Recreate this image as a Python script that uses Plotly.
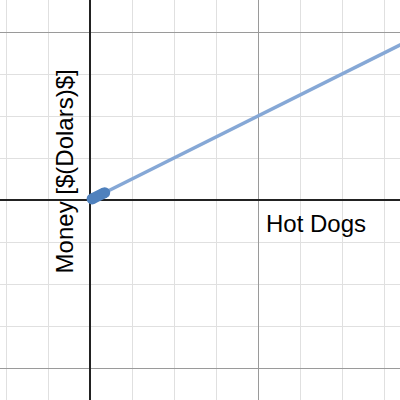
import plotly.graph_objects as go

# line y = 0.5x, plus the short thick segment at origin
line_x = [0, 7.6]
line_y = [0, 3.8]
seg_x = [0.05, 0.35]
seg_y = [0.025, 0.175]

fig = go.Figure()
fig.add_trace(go.Scatter(x=line_x, y=line_y, mode="lines",
                         line=dict(color="#86a8d6", width=3.5)))
fig.add_trace(go.Scatter(x=seg_x, y=seg_y, mode="lines+markers",
                         line=dict(color="#4f81bd", width=11),
                         marker=dict(color="#4f81bd", size=11)))

axis = dict(showticklabels=False, ticks="", dtick=4, tick0=0,
            gridcolor="#9a9a9a", gridwidth=1,
            zeroline=True, zerolinecolor="#222222", zerolinewidth=1.5,
            minor=dict(dtick=1, tick0=0, showgrid=True, gridcolor="#e0e0e0", gridwidth=1),
            fixedrange=True)

fig.update_layout(
    width=400, height=400, margin=dict(l=0, r=0, t=0, b=0),
    plot_bgcolor="white", paper_bgcolor="white", showlegend=False,
    xaxis=dict(range=[-90/42, 310/42], **axis),
    yaxis=dict(range=[-200/42, 200/42], **axis),
    font=dict(family="Liberation Sans, Arial", color="black"),
)
fig.add_annotation(x=278/42, y=-0.55, text="Hot Dogs", showarrow=False,
                   xanchor="right", yanchor="middle", font=dict(size=24))
fig.add_annotation(x=-0.6, y=-1.8, text="Money [$(Dolars)$]", showarrow=False,
                   textangle=-90, xanchor="center", yanchor="bottom", font=dict(size=24))
fig.write_html("out.html", config={"displayModeBar": False})

# remove default page margin so the chart fills the window
with open("out.html") as f:
    html = f.read()
html = html.replace("<body>", '<body style="margin:0">', 1)
with open("out.html", "w") as f:
    f.write(html)
